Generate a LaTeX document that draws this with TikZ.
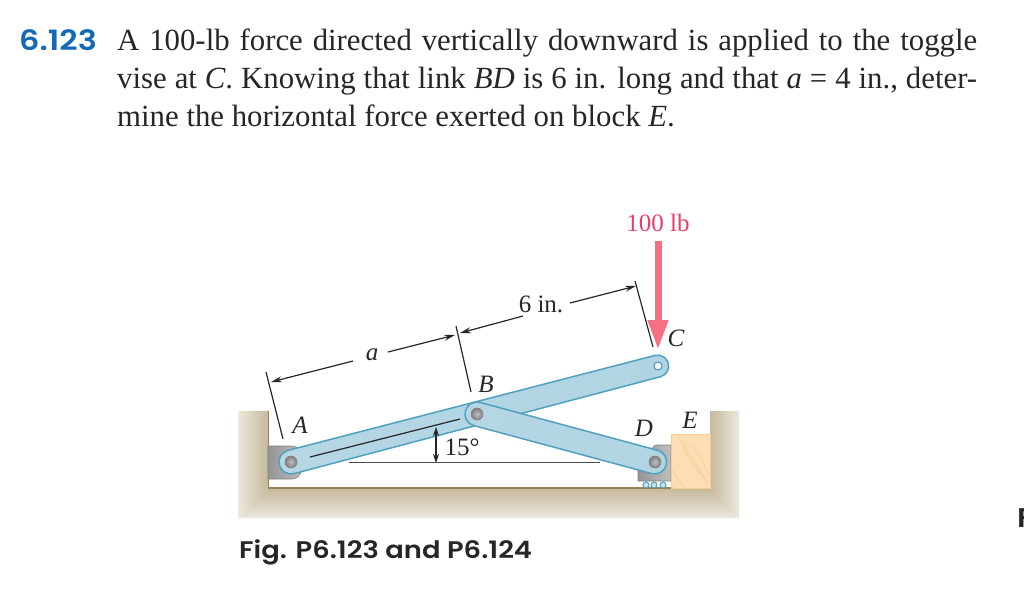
\documentclass[tikz,border=0pt]{standalone}
\usepackage{fontspec}
\setmainfont{Liberation Serif}
\newfontfamily\headfont[FakeStretch=1.14, BoldFont={Poppins SemiBold}]{Poppins}
\usetikzlibrary{arrows.meta, positioning}
\definecolor{my_blue}{RGB}{20, 105, 180}
\definecolor{my_pink}{RGB}{232, 62, 105}
\definecolor{my_arrow}{RGB}{245, 112, 128}
\definecolor{my_edge}{RGB}{80, 160, 192}
\definecolor{my_wall}{RGB}{198, 185, 155}
\definecolor{my_walllight}{RGB}{236, 232, 221}
\definecolor{my_rim}{RGB}{150, 130, 85}
\definecolor{my_wood}{RGB}{253, 222, 180}
\definecolor{my_grain}{RGB}{247, 205, 150}
\tikzset {
  label/.style = {inner sep=0, font=\fontsize{25}{25}\selectfont\itshape, text=black!85},
  dimtext/.style = {inner sep=0, font=\fontsize{25}{25}\selectfont, text=black!85},
  line/.style = {-{Stealth[length=11pt, width=6pt]}, line width=1.2pt, color=black!85},
  plainline/.style = {line width=1.2pt, color=black!85},
  wall/.style = {draw=none},
  rim/.style = {draw=my_rim, line width=1.2pt},
  link/.style = {draw=my_edge, line width=1.5pt, left color=my_edge!42, middle color=my_edge!12, right color=my_edge!45},
  pin/.style = {draw=black!50, line width=0.6pt, inner color=black!25, outer color=black!50},
  support/.style = {draw=black!50, line width=0.6pt, left color=black!42, right color=black!25},
  roller/.style = {draw=my_edge, line width=1pt, fill=my_edge!30},
  grain/.style = {draw=my_grain, line width=0.7pt},
  force/.style = {-{Triangle[length=30pt, width=19pt]}, line width=7pt, color=my_arrow}
}
\begin{document}
\begin{tikzpicture}[x=1pt, y=-1pt]
    \useasboundingbox (0,0) rectangle (1024,590);

    % text
    \node[inner sep=0, anchor=north west, font=\headfont\bfseries\fontsize{28}{28}\selectfont, text=my_blue] (number) at (19,29) {6.123};
    \node[inner sep=0, anchor=north west, text width=860pt, align=justify, font=\fontsize{30.8}{38}\selectfont, text=black!85] (problem) at (117,28.5)
        {A 100-lb force directed vertically downward is applied to the toggle\linebreak
         vise at \textit{C}. Knowing that link \textit{BD} is 6 in. long and that \textit{a} = 4 in., deter-\linebreak
         mine the horizontal force exerted on block \textit{E}.\par};
    \node[inner sep=0, anchor=west, font=\headfont\bfseries\fontsize{24}{24}\selectfont, text=black!85] (caption) at (239,552) {Fig. P6.123 and P6.124};
    \node[inner sep=0, anchor=west, font=\headfont\bfseries\fontsize{27}{27}\selectfont, text=black!85] (edgeletter) at (1017,518) {F};

    % walls
    \shade[wall, left color=my_walllight, right color=my_wall] (238,411) -- (268,411) -- (268,488) -- (238,518) -- cycle;
    \shade[wall, top color=my_wall, bottom color=my_walllight] (238,518) -- (268,488) -- (710,488) -- (739,518) -- cycle;
    \shade[wall, left color=my_wall, right color=my_walllight] (710,411) -- (739,411) -- (739,518) -- (710,488) -- cycle;
    \draw[rim] (268,488) -- (710,488);
    \draw[rim, line width=0.7pt] (268,411) -- (268,488);

    % supports
    \path[support] (268,446) -- (292,446) to[out=0, in=90] (303,462) to[out=-90, in=0] (292,479) -- (268,479) -- cycle;
    \path[support] (638,481) -- (638,464) -- (650,449) to[out=-50, in=180] (656,445) -- (671,445) -- (671,481) -- cycle;
    \foreach \xr in {646, 654, 663} {
        \draw[roller] (\xr,485) circle (3);
    }

    % block
    \draw[draw=my_grain, line width=1pt, fill=my_wood] (671,434) rectangle (710,488);
    \draw[grain] (684,488) -- (672,470);
    \draw[grain] (708,484) -- (678,436);
    \draw[grain] (684,444) .. controls (692,442) and (706,462) .. (708,476);
    \draw[grain] (684,444) .. controls (682,452) and (696,470) .. (706,480);

    \coordinate (A) at (291,462);
    \coordinate (B) at (477,414);
    \coordinate (C) at (658,366);
    \coordinate (D) at (655,462);

    % links
    \begin{scope}[shift={(A)}, rotate=14.66]
        \path[link] (0,-12) -- (379,-11) arc (-90:90:11) -- (0,12) arc (90:270:12) -- cycle;
    \end{scope}
    \begin{scope}[shift={(B)}, rotate=-15.1]
        \path[link] (0,-12) -- (184,-12) arc (-90:90:12) -- (0,12) arc (90:270:12) -- cycle;
    \end{scope}
    \path[pin] (A) circle (6);
    \path[pin] (B) circle (6);
    \path[pin] (D) circle (6);
    \draw[draw=my_edge, line width=1.2pt, fill=white] (C) circle (4);

    % force
    \coordinate (forcetail) at (658,241);
    \coordinate (forcetip) at (658,350);
    \draw[force] (forcetail) -- (forcetip);
    \node[dimtext, text=my_pink] (forcelabel) at (658,223) {100 lb};

    % dimensions
    \coordinate (tickAa) at (266,372);
    \coordinate (tickAb) at (283,439);
    \coordinate (tickBa) at (456,326);
    \coordinate (tickBb) at (471,392);
    \coordinate (tickCa) at (635,281);
    \coordinate (tickCb) at (653,347);
    \draw[plainline] (tickAa) -- (tickAb);
    \draw[plainline] (tickBa) -- (tickBb);
    \draw[plainline] (tickCa) -- (tickCb);
    \node[label] (dima) at (372,355) {a};
    \node[dimtext] (dimsix) at (541,304) {6 in.};
    \coordinate (tipAl) at (271,382);
    \coordinate (tipBl) at (455,335);
    \coordinate (tipBr) at (460,333);
    \coordinate (tipCr) at (636,286);
    \coordinate (tailal) at (353,361);
    \coordinate (tailar) at (388,352);
    \coordinate (tailsl) at (523,316);
    \coordinate (tailsr) at (570,303);
    \draw[line] (tailal) -- (tipAl);
    \draw[line] (tailar) -- (tipBl);
    \draw[line] (tailsl) -- (tipBr);
    \draw[line] (tailsr) -- (tipCr);

    % angle
    \coordinate (axisl) at (349,462.5);
    \coordinate (axisr) at (600,462.5);
    \coordinate (barl) at (310,457);
    \coordinate (barr) at (460,419);
    \coordinate (angt) at (436,427);
    \coordinate (angb) at (436,463);
    \draw[plainline, color=black!70] (axisl) -- (axisr);
    \draw[plainline] (barl) -- (barr);
    \draw[line, {Stealth[length=9pt, width=6pt]}-{Stealth[length=9pt, width=6pt]}] (angt) -- (angb);
    \node[dimtext] (angle) at (462,447) {15°};

    % letters
    \node[label] (labelA) at (300,425) {A};
    \node[label] (labelB) at (486,384) {B};
    \node[label] (labelC) at (676,338) {C};
    \node[label] (labelD) at (644,428) {D};
    \node[label] (labelE) at (690,420) {E};
\end{tikzpicture}
\end{document}
